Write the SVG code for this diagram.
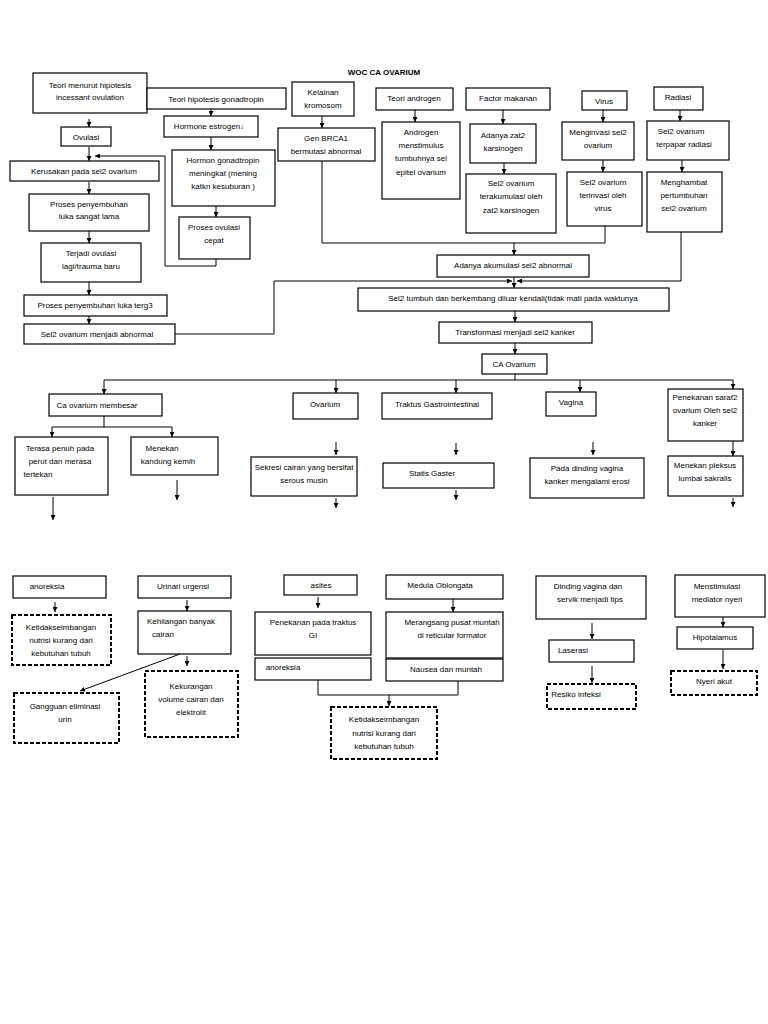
<svg xmlns="http://www.w3.org/2000/svg" width="768" height="1024" viewBox="0 0 768 1024">
<style>
rect{fill:#fff;stroke:#000;stroke-width:1.2}
.d{stroke-dasharray:4 2;stroke-width:2}
text{font-family:"Liberation Sans",Arial,sans-serif;font-size:8px;text-anchor:middle;fill:#000}
.c path,.c line{fill:none;stroke:#000;stroke-width:1}
</style>
<defs><marker id="a" viewBox="0 0 6 6" refX="6" refY="3" markerWidth="5" markerHeight="5" orient="auto"><path d="M0,0L6,3L0,6z" fill="#000"/></marker></defs>
<rect width="768" height="1024" fill="#fff" style="stroke:none"/>
<text x="384" y="75" style="font-weight:bold">WOC CA OVARIUM</text>
<g class="c">
<line x1="89" y1="119" x2="89" y2="127" marker-end="url(#a)"/>
<line x1="89" y1="147" x2="89" y2="161" marker-end="url(#a)"/>
<line x1="89" y1="182" x2="89" y2="194" marker-end="url(#a)"/>
<line x1="89" y1="231" x2="89" y2="243" marker-end="url(#a)"/>
<line x1="89" y1="282" x2="89" y2="295" marker-end="url(#a)"/>
<line x1="89" y1="316" x2="89" y2="324" marker-end="url(#a)"/>
<line x1="211" y1="109" x2="211" y2="116" marker-end="url(#a)"/>
<line x1="211" y1="137" x2="211" y2="150" marker-end="url(#a)"/>
<line x1="216" y1="206" x2="216" y2="217" marker-end="url(#a)"/>
<path d="M216,259V266H165V156H95" marker-end="url(#a)"/>
<line x1="322" y1="116" x2="322" y2="128" marker-end="url(#a)"/>
<line x1="415" y1="110" x2="415" y2="122" marker-end="url(#a)"/>
<line x1="503" y1="110" x2="503" y2="124" marker-end="url(#a)"/>
<line x1="504" y1="163" x2="504" y2="174" marker-end="url(#a)"/>
<line x1="603" y1="110" x2="603" y2="122" marker-end="url(#a)"/>
<line x1="603" y1="160" x2="603" y2="172" marker-end="url(#a)"/>
<line x1="680" y1="110" x2="680" y2="121" marker-end="url(#a)"/>
<line x1="682" y1="160" x2="682" y2="172" marker-end="url(#a)"/>
<path d="M322,161V243H605V226"/>
<line x1="514" y1="243" x2="514" y2="255" marker-end="url(#a)"/>
<path d="M681,232V281H517" marker-end="url(#a)"/>
<path d="M175,334H274V281H512" marker-end="url(#a)"/>
<line x1="514" y1="277" x2="514" y2="288" marker-end="url(#a)"/>
<line x1="515" y1="311" x2="515" y2="322" marker-end="url(#a)"/>
<line x1="515" y1="343" x2="515" y2="354" marker-end="url(#a)"/>
<path d="M515,374V380"/>
<path d="M104,380H733"/>
<line x1="104" y1="380" x2="104" y2="394" marker-end="url(#a)"/>
<line x1="336" y1="380" x2="336" y2="393" marker-end="url(#a)"/>
<line x1="456" y1="380" x2="456" y2="393" marker-end="url(#a)"/>
<line x1="580" y1="380" x2="580" y2="392" marker-end="url(#a)"/>
<line x1="733" y1="380" x2="733" y2="389" marker-end="url(#a)"/>
<line x1="104" y1="416" x2="104" y2="427"/>
<path d="M52,427H172"/>
<line x1="52" y1="427" x2="52" y2="437" marker-end="url(#a)"/>
<line x1="172" y1="427" x2="172" y2="437" marker-end="url(#a)"/>
<line x1="53" y1="497" x2="53" y2="520" marker-end="url(#a)"/>
<line x1="177" y1="480" x2="177" y2="500" marker-end="url(#a)"/>
<line x1="336" y1="442" x2="336" y2="455" marker-end="url(#a)"/>
<line x1="456" y1="443" x2="456" y2="455" marker-end="url(#a)"/>
<line x1="593" y1="442" x2="593" y2="455" marker-end="url(#a)"/>
<line x1="733" y1="441" x2="733" y2="456" marker-end="url(#a)"/>
<line x1="336" y1="498" x2="336" y2="508" marker-end="url(#a)"/>
<line x1="456" y1="490" x2="456" y2="500" marker-end="url(#a)"/>
<line x1="733" y1="498" x2="733" y2="507" marker-end="url(#a)"/>
<line x1="55" y1="602" x2="55" y2="612" marker-end="url(#a)"/>
<line x1="187" y1="600" x2="187" y2="611" marker-end="url(#a)"/>
<line x1="187" y1="656" x2="187" y2="666" marker-end="url(#a)"/>
<line x1="180" y1="654" x2="80" y2="691" marker-end="url(#a)"/>
<line x1="318" y1="597" x2="318" y2="608" marker-end="url(#a)"/>
<line x1="318" y1="644" x2="318" y2="655" marker-end="url(#a)"/>
<line x1="453" y1="598" x2="453" y2="612" marker-end="url(#a)"/>
<line x1="453" y1="645" x2="453" y2="656" marker-end="url(#a)"/>
<path d="M318,680V695H458V681"/>
<line x1="389" y1="695" x2="389" y2="706" marker-end="url(#a)"/>
<line x1="592" y1="623" x2="592" y2="639" marker-end="url(#a)"/>
<line x1="592" y1="666" x2="592" y2="683" marker-end="url(#a)"/>
<line x1="723" y1="617" x2="723" y2="627" marker-end="url(#a)"/>
<line x1="723" y1="650" x2="723" y2="669" marker-end="url(#a)"/>
</g>
<g id="n1"><rect x="33" y="73" width="114" height="40"/><text x="90" y="88">Teori menurut hipotesis</text><text x="90" y="100">incessant ovulation</text></g>
<g id="n2"><rect x="147" y="88" width="139" height="21"/><text x="216" y="102">Teori hipotesis gonadtropin</text></g>
<g id="n3"><rect x="292" y="82" width="62" height="34"/><text x="323" y="95">Kelainan</text><text x="323" y="108">kromosom</text></g>
<g id="n4"><rect x="278" y="128" width="97" height="33"/><text x="326" y="141">Gen BRCA1</text><text x="326" y="154">bermutasi abnormal</text></g>
<g id="n5"><rect x="376" y="88" width="77" height="22"/><text x="414" y="101">Teori androgen</text></g>
<g id="n6"><rect x="382" y="122" width="78" height="77"/><text x="421" y="135">Androgen</text><text x="421" y="148">menstimulus</text><text x="421" y="161">tumbuhnya sel</text><text x="421" y="175">epitel ovarium</text></g>
<g id="n7"><rect x="466" y="88" width="84" height="22"/><text x="508" y="101">Factor makanan</text></g>
<g id="n8"><rect x="470" y="124" width="66" height="39"/><text x="503" y="138">Adanya zat2</text><text x="503" y="151">karsinogen</text></g>
<g id="n9"><rect x="466" y="174" width="90" height="59"/><text x="511" y="186">Sel2 ovarium</text><text x="511" y="199">terakumulasi oleh</text><text x="511" y="213">zat2 karsinogen</text></g>
<g id="n10"><rect x="582" y="91" width="45" height="19"/><text x="604" y="104">Virus</text></g>
<g id="n11"><rect x="562" y="122" width="72" height="38"/><text x="598" y="135">Menginvasi sel2</text><text x="598" y="148">ovarium</text></g>
<g id="n12"><rect x="567" y="172" width="75" height="54"/><text x="603" y="185">Sel2 ovarium</text><text x="603" y="198">terinvasi oleh</text><text x="603" y="211">virus</text></g>
<g id="n13"><rect x="654" y="87" width="49" height="23"/><text x="678" y="100">Radiasi</text></g>
<g id="n14"><rect x="647" y="121" width="82" height="39"/><text x="681" y="134">Sel2 ovarium</text><text x="684" y="147">terpapar radiasi</text></g>
<g id="n15"><rect x="647" y="172" width="75" height="60"/><text x="684" y="185">Menghambat</text><text x="684" y="198">pertumbuhan</text><text x="684" y="211">sel2 ovarium</text></g>
<g id="n16"><rect x="437" y="255" width="152" height="22"/><text x="513" y="268">Adanya akumulasi sel2 abnormal</text></g>
<g id="n17"><rect x="358" y="288" width="311" height="23"/><text x="513" y="301">Sel2 tumbuh dan berkembang diluar kendali(tidak mati pada waktunya</text></g>
<g id="n18"><rect x="439" y="322" width="153" height="21"/><text x="515" y="335">Transformasi menjadi sel2 kanker</text></g>
<g id="n19"><rect x="482" y="354" width="65" height="20"/><text x="514" y="367">CA Ovarium</text></g>
<g id="n20"><rect x="61" y="127" width="50" height="19"/><text x="86" y="140">Ovulasi</text></g>
<g id="n21"><rect x="10" y="161" width="149" height="20"/><text x="84" y="174">Kerusakan pada sel2  ovarium</text></g>
<g id="n22"><rect x="29" y="194" width="120" height="37"/><text x="89" y="207">Proses penyembuhan</text><text x="89" y="219">luka sangat lama</text></g>
<g id="n23"><rect x="41" y="243" width="100" height="39"/><text x="91" y="256">Terjadi ovulasi</text><text x="91" y="269">lagi/trauma baru</text></g>
<g id="n24"><rect x="24" y="295" width="143" height="21"/><text x="95" y="308">Proses penyembuhan luka terg3</text></g>
<g id="n25"><rect x="24" y="324" width="151" height="20"/><text x="97" y="337">Sel2 ovarium menjadi abnormal</text></g>
<g id="n26"><rect x="164" y="116" width="94" height="21"/><text x="209" y="129">Hormone estrogen↓</text></g>
<g id="n27"><rect x="172" y="150" width="103" height="56"/><text x="223" y="163">Hormon gonadtropin</text><text x="223" y="176">meningkat (mening</text><text x="223" y="189">katkn kesuburan )</text></g>
<g id="n28"><rect x="179" y="217" width="71" height="42"/><text x="214" y="230">Proses ovulasi</text><text x="214" y="243">cepat</text></g>
<g id="n29"><rect x="49" y="394" width="113" height="22"/><text x="97" y="408">Ca ovarium membesar</text></g>
<g id="n30"><rect x="293" y="393" width="65" height="26"/><text x="325" y="407">Ovarium</text></g>
<g id="n31"><rect x="382" y="393" width="110" height="26"/><text x="437" y="407">Traktus Gastrointestinal</text></g>
<g id="n32"><rect x="546" y="392" width="50" height="24"/><text x="571" y="405">Vagina</text></g>
<g id="n33"><rect x="668" y="389" width="75" height="52"/><text x="705" y="400">Penekanan saraf2</text><text x="705" y="413">ovarium Oleh sel2</text><text x="705" y="426">kanker</text></g>
<g id="n34"><rect x="15" y="437" width="93" height="58"/><text x="60" y="451">Terasa penuh pada</text><text x="60" y="464">perut dan merasa</text><text x="38" y="477">tertekan</text></g>
<g id="n35"><rect x="131" y="437" width="87" height="38"/><text x="162" y="451">Menekan</text><text x="168" y="464">kandung kemih</text></g>
<g id="n36"><rect x="251" y="457" width="106" height="39"/><text x="304" y="470">Sekresi cairan yang bersifat</text><text x="304" y="483">serous musin</text></g>
<g id="n37"><rect x="383" y="463" width="111" height="25"/><text x="432" y="476">Statis Gaster</text></g>
<g id="n38"><rect x="530" y="458" width="114" height="40"/><text x="587" y="471">Pada dinding vagina</text><text x="587" y="484">kanker mengalami erosi</text></g>
<g id="n39"><rect x="668" y="456" width="75" height="40"/><text x="705" y="468">Menekan pleksus</text><text x="705" y="481">lumbal sakralis</text></g>
<g id="n40"><rect x="13" y="576" width="93" height="22"/><text x="47" y="589">anoreksia</text></g>
<g id="n41"><rect class="d" x="12" y="615" width="99" height="50"/><text x="61" y="630">Ketidakseimbangan</text><text x="61" y="643">nutrisi kurang dari</text><text x="61" y="656">kebutuhan tubuh</text></g>
<g id="n42"><rect x="138" y="576" width="93" height="22"/><text x="183" y="589">Urinari urgensi</text></g>
<g id="n43"><rect x="138" y="611" width="93" height="43"/><text x="181" y="624">Kehilangan banyak</text><text x="163" y="637">cairan</text></g>
<g id="n44"><rect class="d" x="14" y="693" width="105" height="50"/><text x="65" y="709">Gangguan eliminasi</text><text x="65" y="722">urin</text></g>
<g id="n45"><rect class="d" x="145" y="671" width="93" height="66"/><text x="191" y="689">Kekurangan</text><text x="191" y="702">volume cairan dan</text><text x="191" y="715">elektrolit</text></g>
<g id="n46"><rect x="284" y="575" width="73" height="20"/><text x="321" y="588">asites</text></g>
<g id="n47"><rect x="255" y="612" width="116" height="43"/><text x="313" y="625">Penekanan pada traktus</text><text x="313" y="638">GI</text></g>
<g id="n48"><rect x="255" y="658" width="116" height="22"/><text x="283" y="670">anoreksia</text></g>
<g id="n49"><rect x="386" y="575" width="117" height="24"/><text x="440" y="588">Medula Oblongata</text></g>
<g id="n50"><rect x="386" y="612" width="117" height="46"/><text x="452" y="625">Merangsang pusat muntah</text><text x="452" y="638">di  reticular formator</text></g>
<g id="n51"><rect x="386" y="659" width="117" height="22"/><text x="446" y="672">Nausea dan muntah</text></g>
<g id="n52"><rect class="d" x="331" y="707" width="106" height="52"/><text x="384" y="722">Ketidakseimbangan</text><text x="384" y="736">nutrisi kurang dari</text><text x="384" y="749">kebutuhan tubuh</text></g>
<g id="n53"><rect x="536" y="576" width="110" height="43"/><text x="588" y="589">Dinding vagina dan</text><text x="590" y="602">servik menjadi tips</text></g>
<g id="n54"><rect x="549" y="640" width="85" height="22"/><text x="573" y="653">Laserasi</text></g>
<g id="n55"><rect class="d" x="547" y="684" width="89" height="25"/><text x="576" y="697">Resiko infeksi</text></g>
<g id="n56"><rect x="675" y="575" width="90" height="42"/><text x="717" y="589">Menstimulasi</text><text x="717" y="602">mediator nyeri</text></g>
<g id="n57"><rect x="677" y="627" width="76" height="22"/><text x="715" y="640">Hipotalamus</text></g>
<g id="n58"><rect class="d" x="671" y="671" width="86" height="24"/><text x="714" y="684">Nyeri akut</text></g>
</svg>
